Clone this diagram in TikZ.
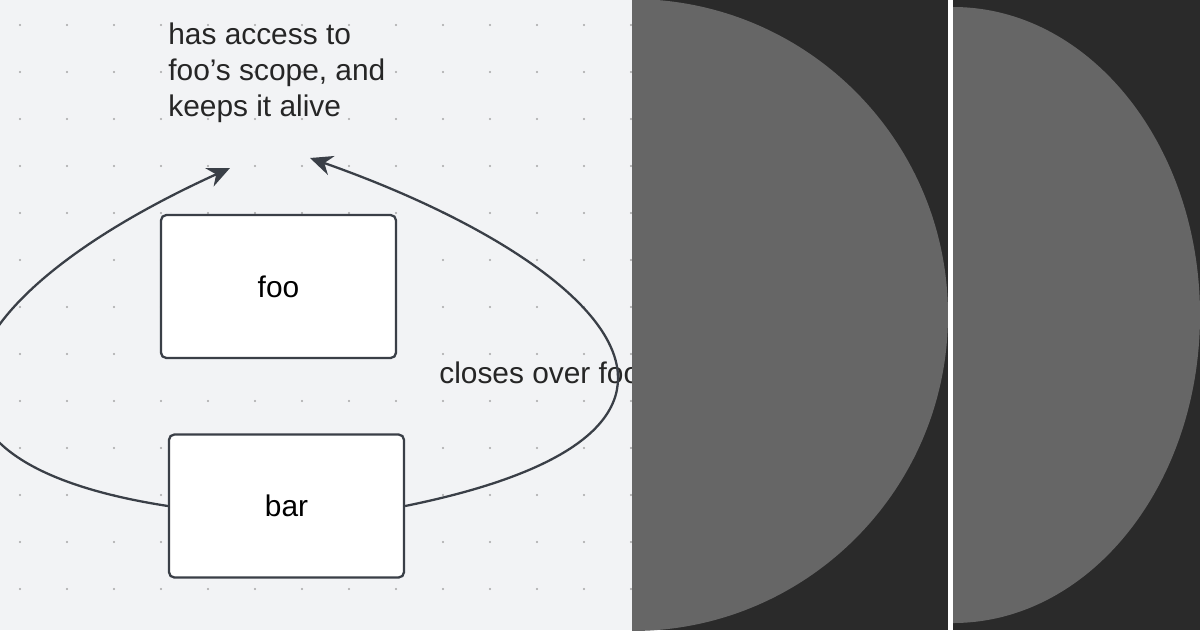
\documentclass[tikz,border=0pt]{standalone}
\usepackage{fontspec}
\setmainfont{Liberation Sans}
\usepackage{xcolor}
\definecolor{boardBg}{HTML}{F2F3F5}
\definecolor{lineDark}{HTML}{3A3F47}
\definecolor{panelDark}{HTML}{2A2A2A}
\definecolor{discGray}{HTML}{666666}
\usetikzlibrary{positioning,arrows.meta}
\tikzset{%
  funcBox/.style={%
    rectangle,
    rounded corners=3pt,
    draw=lineDark,
    line width=1.3pt,
    fill=white,
    minimum width=4.7cm,
    minimum height=2.86cm,
    font=\fontsize{17}{20.5}\selectfont
  },
  arrowLine/.style={%
    -{Stealth[length=4.5mm,width=4mm]},
    line width=1.3pt,
    color=lineDark
  },
  noteText/.style={%
    align=left,
    inner sep=0pt,
    font=\fontsize{17}{20.5}\selectfont,
    text=black!85
  }
}
\begin{document}
\begin{tikzpicture}[x=0.02cm,y=-0.02cm]
  \useasboundingbox (0,0) rectangle (1200,630);
  \fill[boardBg] (0,0) rectangle (632,630);
  % dot grid
  \foreach \i in {0,...,13}
    \foreach \j in {0,...,13}
      \fill[black!35] (20+47*\i,25+47*\j) circle (1.1);

  \node[funcBox] (foo) at (278.5,286.5) {foo};
  \node[funcBox] (bar) at (286.5,506) {bar};
  \node[noteText, anchor=north west] (note) at (168,22)
    {has access to\\foo's scope, and\\keeps it alive};
  \node[noteText, anchor=west] (closes) at (439,373) {closes over foo};

  \coordinate (tipL) at (230,168);
  \coordinate (tipR) at (310,158);
  \draw[arrowLine] (bar.west) .. controls (-130,460) and (-60,300) .. (tipL);
  \draw[arrowLine] (bar.east) .. controls (780,430) and (600,260) .. (tipR);

  % right panel
  \fill[panelDark] (632,0) rectangle (1200,630);
  \begin{scope}
    \clip (632,0) rectangle (948,630);
    \fill[discGray] (632,315) circle (316);
  \end{scope}
  \begin{scope}
    \clip (953,0) rectangle (1200,630);
    \fill[discGray] (953,315) ellipse (247 and 308);
  \end{scope}
  \fill[white] (948,0) rectangle (953,630);
\end{tikzpicture}
\end{document}
